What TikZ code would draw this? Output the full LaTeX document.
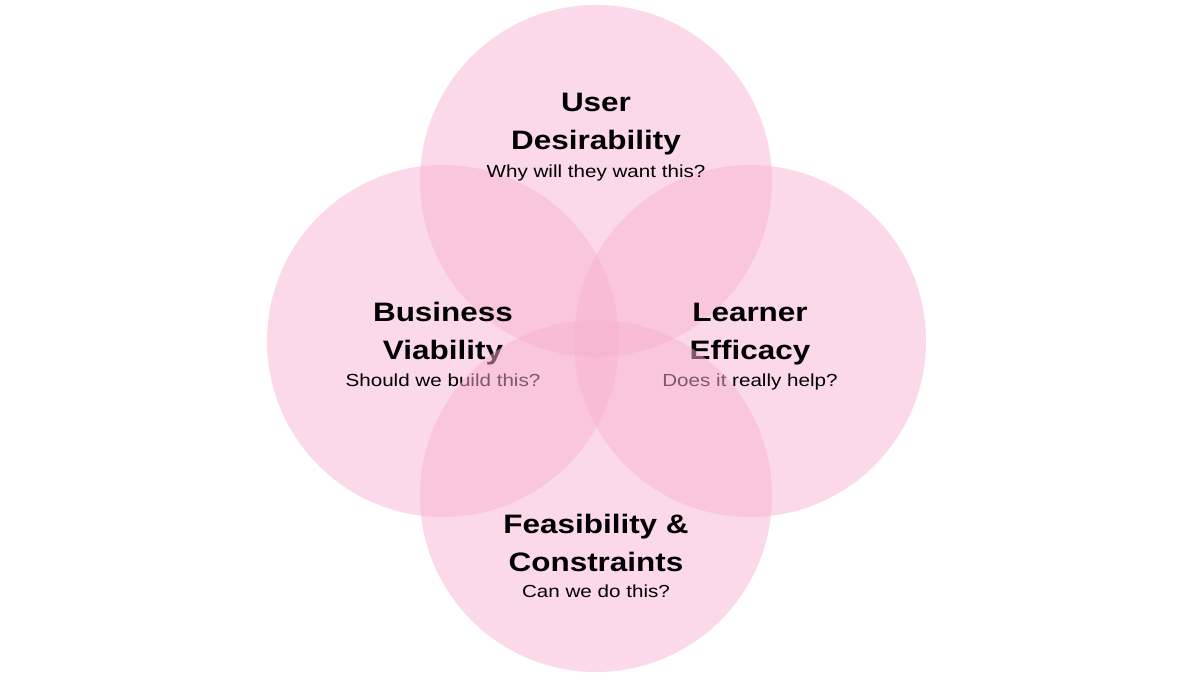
\documentclass[tikz,border=0pt]{standalone}
\usepackage{fontspec}
\setmainfont{Liberation Sans}[FakeStretch=1.18]
\usetikzlibrary{positioning}
\definecolor{vennpink}{HTML}{F7B3D1}
\tikzset{
  venn/.style={circle, fill=vennpink, fill opacity=0.5, minimum size=264pt, inner sep=0pt},
  heading/.style={align=center, anchor=base, inner sep=0pt, font=\bfseries\fontsize{20}{28.5}\selectfont},
  question/.style={anchor=base, inner sep=0pt, font=\fontsize{13.1}{16}\selectfont}
}
\begin{document}
\begin{tikzpicture}[x=0.75pt, y=-0.75pt]
\useasboundingbox (0,0) rectangle (1200,680);
% circles (bottom one comes later, it lies over the side labels)
\node[venn] (desir) at (596,181) {};
\node[venn] (biz) at (443,341) {};
\node[venn] (learn) at (750,341) {};
% labels (heading base = its last line)
\node[heading] (desirt) at (596,150) {User\\Desirability};
\node[question] (desirq) at (596,178) {Why will they want this?};
\node[heading] (bizt) at (443,360) {Business\\Viability};
\node[question] (bizq) at (443,387) {Should we build this?};
\node[heading] (learnt) at (750,360) {Learner\\Efficacy};
\node[question] (learnq) at (750,387) {Does it really help?};
\node[venn] (feas) at (596,496) {};
\node[heading] (feast) at (596,572) {Feasibility \&\\Constraints};
\node[question] (feasq) at (596,598) {Can we do this?};
\end{tikzpicture}
\end{document}
